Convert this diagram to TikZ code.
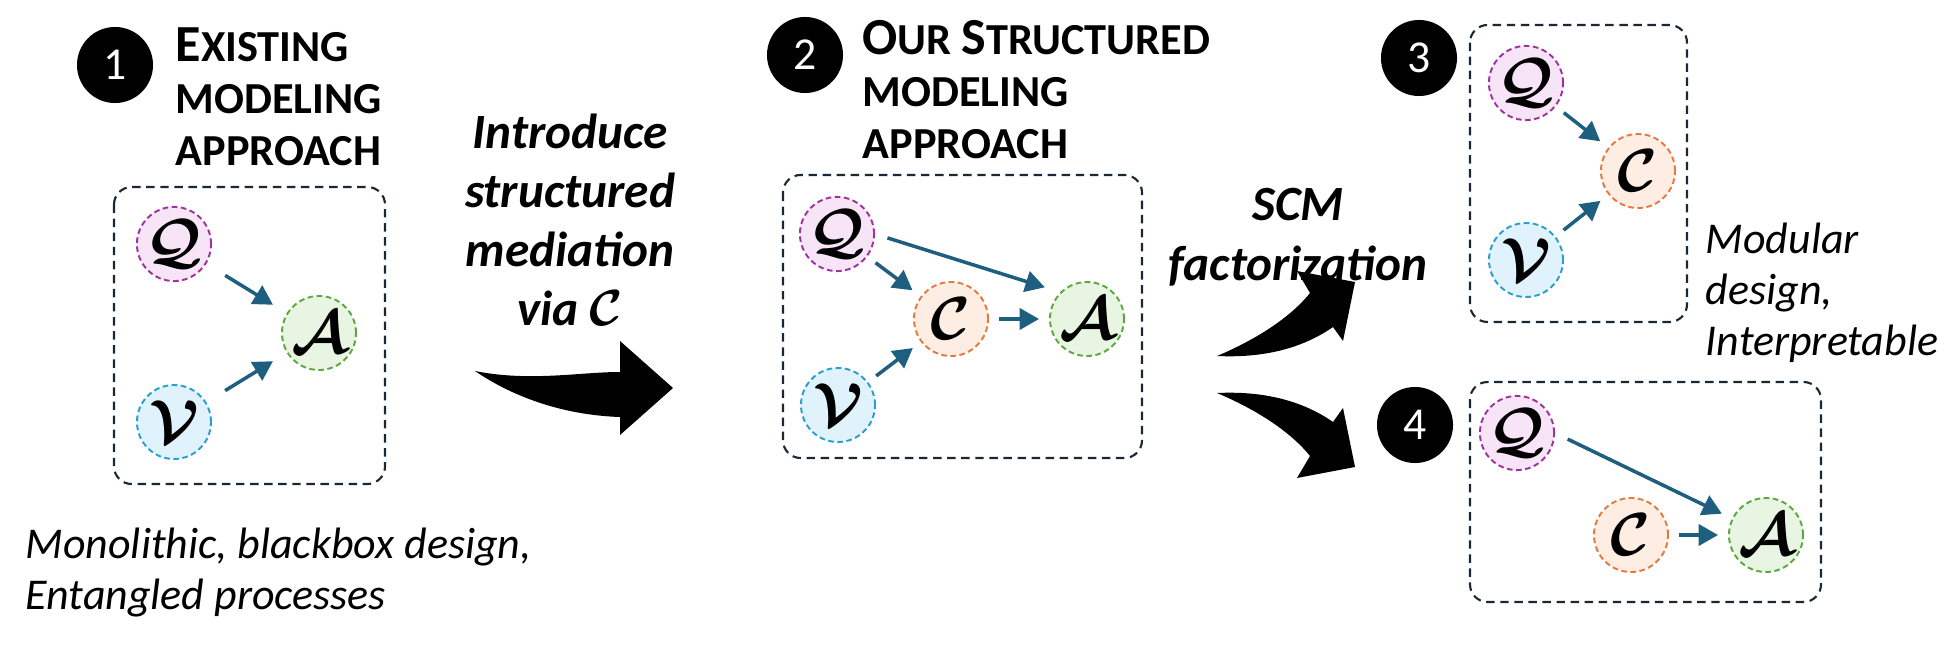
\documentclass[tikz,border=0pt]{standalone}
\usepackage{fontspec}
\setmainfont{Carlito}
\usepackage{amsmath,bm}
\usetikzlibrary{arrows.meta,positioning}

\definecolor{qline}{RGB}{160,50,160}
\definecolor{qfill}{RGB}{247,228,247}
\definecolor{aline}{RGB}{92,168,62}
\definecolor{afill}{RGB}{233,245,227}
\definecolor{vline}{RGB}{38,160,206}
\definecolor{vfill}{RGB}{224,242,252}
\definecolor{cline}{RGB}{232,120,60}
\definecolor{cfill}{RGB}{253,237,227}
\definecolor{edgeblue}{RGB}{30,95,128}
\definecolor{boxline}{RGB}{25,40,55}

\tikzset{
  var/.style={
      circle,
      dashed,
      dash pattern=on 1.6pt off 1pt,
      line width=0.55pt,
      minimum size=0.74cm,
      inner sep=0pt,
      font=\fontsize{16}{16}\selectfont,
  },
  qvar/.style={var, draw=qline, fill=qfill},
  avar/.style={var, draw=aline, fill=afill},
  vvar/.style={var, draw=vline, fill=vfill},
  cvar/.style={var, draw=cline, fill=cfill},
  stepnum/.style={
      circle,
      fill=black,
      text=white,
      minimum size=0.76cm,
      inner sep=0pt,
      font=\fontsize{13}{13}\selectfont,
  },
  groupbox/.style={
      draw=boxline,
      dash pattern=on 2.4pt off 1.6pt,
      line width=0.6pt,
      rounded corners=5pt,
  },
  link/.style={
      draw=edgeblue,
      line width=1pt,
      -{Triangle[length=5.5pt,width=6pt]},
      shorten <=0.1cm,
      shorten >=0.1cm,
  },
  heading/.style={
      anchor=north west,
      inner sep=0pt,
      align=left,
      font=\bfseries\fontsize{12.6}{14.8}\selectfont,
  },
  remark/.style={
      anchor=north,
      inner sep=0pt,
      align=center,
      font=\bfseries\itshape\fontsize{14}{16.8}\selectfont,
  },
  note/.style={
      anchor=north west,
      inner sep=0pt,
      align=left,
      font=\itshape\fontsize{12.5}{14.5}\selectfont,
  },
  bigarrow/.style={fill=black},
}
\newcommand{\capsword}[2]{{\fontsize{14.8}{14.8}\selectfont #1}#2}
\newcommand{\calQ}{$\bm{\mathcal{Q}}$}
\newcommand{\calA}{$\bm{\mathcal{A}}$}
\newcommand{\calV}{$\bm{\mathcal{V}}$}
\newcommand{\calC}{$\bm{\mathcal{C}}$}

\begin{document}
\begin{tikzpicture}[x=0.01cm, y=-0.01cm]
  \useasboundingbox (0,0) rectangle (1948,664);

  % (1) existing approach
  \node[stepnum] (n1) at (115,65) {1};
  \node[heading] (h1) at (175,27) {\capsword{E}{XISTING}\\MODELING\\APPROACH};
  \draw[groupbox] (114,187) rectangle (385,484);
  \node[qvar] (q1) at (174,244) {\calQ};
  \node[avar] (a1) at (319,333) {\calA};
  \node[vvar] (v1) at (174,422) {\calV};
  \draw[link, shorten <=0.22cm, shorten >=0.16cm] (q1) -- (a1);
  \draw[link, shorten <=0.22cm, shorten >=0.16cm] (v1) -- (a1);
  \node[note] (m1) at (25,527) {Monolithic, blackbox design,\\Entangled processes};

  % introduce C
  \node[remark] (r1) at (570,113) {Introduce\\structured\\mediation\\via \calC};
  \fill[bigarrow] (475,371) .. controls (530,382) and (580,372) .. (620,372)
    -- (620,341) -- (673,388) -- (620,435) -- (620,417)
    .. controls (560,415) and (510,395) .. cycle;

  % (2) structured approach
  \node[stepnum] (n2) at (805,55) {2};
  \node[heading] (h2) at (862,20) {\capsword{O}{UR} \capsword{S}{TRUCTURED}\\MODELING\\APPROACH};
  \draw[groupbox] (783,175) rectangle (1142,458);
  \node[qvar] (q2) at (837,234) {\calQ};
  \node[cvar] (c2) at (951,319) {\calC};
  \node[avar] (a2) at (1087,319) {\calA};
  \node[vvar] (v2) at (838,405) {\calV};
  \draw[link] (q2) -- (c2);
  \draw[link] (v2) -- (c2);
  \draw[link] (c2) -- (a2);
  \draw[link, shorten <=0.13cm, shorten >=0.16cm] (q2.east) -- (a2.north west);

  % factorization
  \node[remark] (r2) at (1298,188) {SCM\\factorization};
  \fill[bigarrow] (1217,356) .. controls (1255,340) and (1290,318) .. (1310,293)
    -- (1297,271) -- (1355,282) -- (1343,341) -- (1333,327)
    .. controls (1300,350) and (1260,358) .. cycle;
  \fill[bigarrow] (1217,393) .. controls (1255,409) and (1290,431) .. (1310,456)
    -- (1297,478) -- (1355,467) -- (1343,408) -- (1333,422)
    .. controls (1300,399) and (1260,391) .. cycle;

  % (3) modular
  \node[stepnum] (n3) at (1419,58) {3};
  \draw[groupbox] (1470,25) rectangle (1687,322);
  \node[qvar] (q3) at (1526,83) {\calQ};
  \node[cvar] (c3) at (1638,171) {\calC};
  \node[vvar] (v3) at (1526,260) {\calV};
  \draw[link] (q3) -- (c3);
  \draw[link] (v3) -- (c3);
  \node[note] (m3) at (1705,222) {Modular\\design,\\Interpretable};

  % (4)
  \node[stepnum] (n4) at (1415,425) {4};
  \draw[groupbox] (1470,382) rectangle (1821,602);
  \node[qvar] (q4) at (1517,433) {\calQ};
  \node[cvar] (c4) at (1631,535) {\calC};
  \node[avar] (a4) at (1766,535) {\calA};
  \draw[link, shorten <=0.14cm, shorten >=0.11cm] (q4.east) -- (a4);
  \draw[link] (c4) -- (a4);
\end{tikzpicture}
\end{document}
